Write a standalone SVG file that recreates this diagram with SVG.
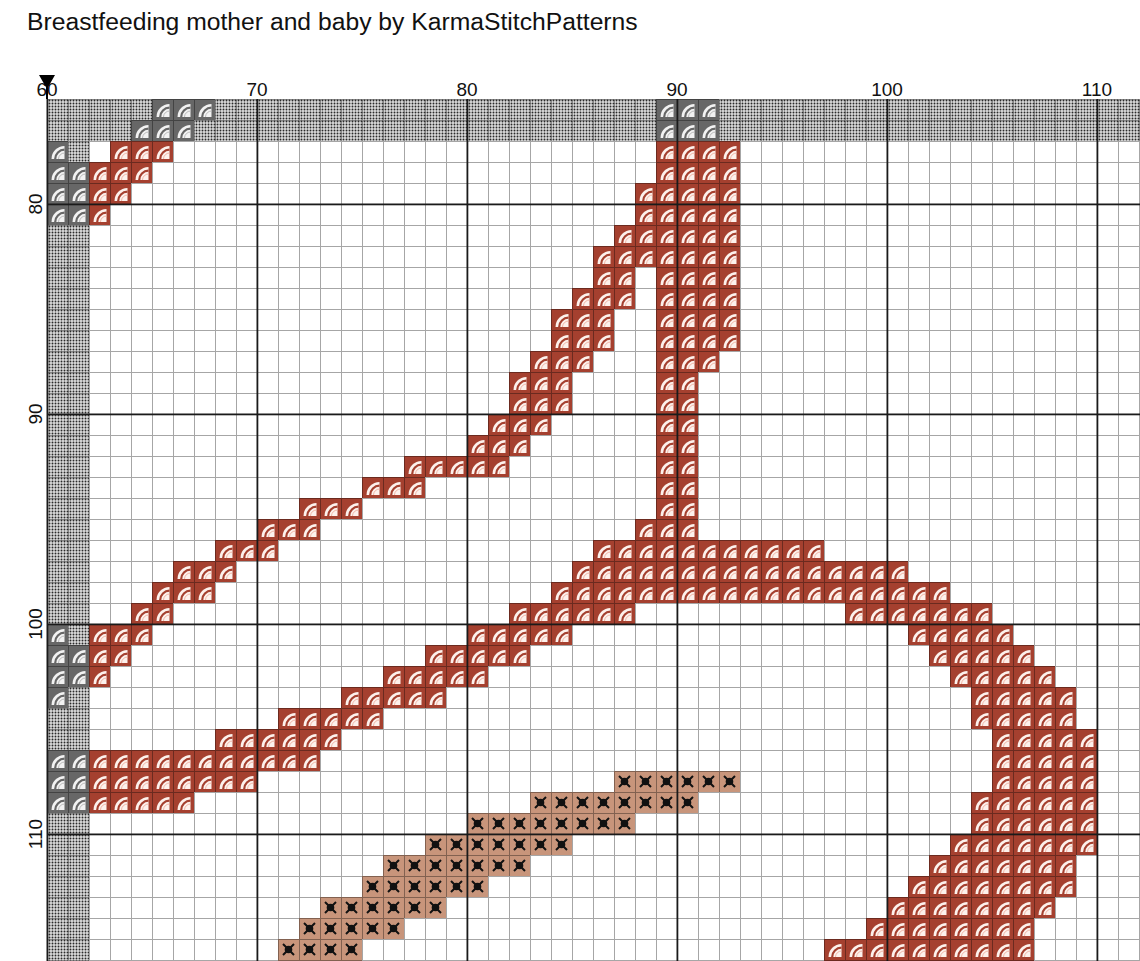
<svg xmlns="http://www.w3.org/2000/svg" width="1140" height="961" viewBox="0 0 1140 961">
<style>
text{font-family:"Liberation Sans",Arial,sans-serif;fill:#111}
.ax{font-size:19px;text-anchor:middle}
.r{fill:url(#pR)}
.g{fill:url(#pK)}
.b{fill:url(#pB)}
.maj{fill:#1a1a1a}
</style>
<defs>
<pattern id="pD" patternUnits="userSpaceOnUse" width="3" height="3">
<rect width="3" height="3" fill="#dcdcdc"/>
<circle cx="1.5" cy="1.5" r="0.95" fill="#2a2a2a"/>
</pattern>
<pattern id="pR" patternUnits="userSpaceOnUse" x="47" y="99" width="21" height="21">
<rect width="21" height="21" fill="#a5402f"/>
<path d="M4.5,18 A13,13 0 0 1 17.5,5 L17.5,18 Z" fill="#fdf1ec"/>
<path d="M8.2,18 A9.3,9.3 0 0 1 17.5,8.7" fill="none" stroke="#a5402f" stroke-width="2.2"/>
<path d="M11.5,18 A6,6 0 0 1 17.5,12" fill="none" stroke="#f0b5a6" stroke-width="1"/>
</pattern>
<pattern id="pK" patternUnits="userSpaceOnUse" x="47" y="99" width="21" height="21">
<rect width="21" height="21" fill="#676767"/>
<path d="M4.5,18 A13,13 0 0 1 17.5,5 L17.5,18 Z" fill="#f2f2f2"/>
<path d="M8.2,18 A9.3,9.3 0 0 1 17.5,8.7" fill="none" stroke="#676767" stroke-width="2.2"/>
<path d="M11.5,18 A6,6 0 0 1 17.5,12" fill="none" stroke="#bbb" stroke-width="1"/>
</pattern>
<pattern id="pB" patternUnits="userSpaceOnUse" x="47" y="99" width="21" height="21">
<rect width="21" height="21" fill="#c8957b"/>
<path d="M5,5L16,16M16,5L5,16" stroke="#111" stroke-width="2"/>
<circle cx="10.5" cy="10.5" r="3.8" fill="#111"/>
</pattern>
<pattern id="pG" patternUnits="userSpaceOnUse" x="47" y="99" width="21" height="21">
<rect width="21" height="1" fill="#000" fill-opacity="0.35"/>
<rect y="1" width="1" height="20" fill="#000" fill-opacity="0.35"/>
</pattern>
</defs>
<rect width="1140" height="961" fill="#fff"/>
<text x="27" y="30" style="font-size:24.7px">Breastfeeding mother and baby by KarmaStitchPatterns</text>
<g id="axis-labels">
<text class="ax" x="47" y="96">60</text>
<text class="ax" x="257" y="96">70</text>
<text class="ax" x="467" y="96">80</text>
<text class="ax" x="677" y="96">90</text>
<text class="ax" x="887" y="96">100</text>
<text class="ax" x="1097" y="96">110</text>
<text class="ax" transform="translate(42,204) rotate(-90)">80</text>
<text class="ax" transform="translate(42,414) rotate(-90)">90</text>
<text class="ax" transform="translate(42,624) rotate(-90)">100</text>
<text class="ax" transform="translate(42,834) rotate(-90)">110</text>
<path d="M39,75 L55,75 L47,89 Z M46,75 H48 V99 H46 Z" fill="#000"/>
</g>
<g id="bands">
<rect x="47" y="99" width="1093" height="42" fill="url(#pD)"/>
<rect x="47" y="141" width="42" height="820" fill="url(#pD)"/>
</g>
<g id="gray-stitches">
<rect class="g" x="152" y="99" width="63" height="21"/>
<rect class="g" x="656" y="99" width="63" height="42"/>
<rect class="g" x="131" y="120" width="63" height="21"/>
<rect class="g" x="47" y="141" width="21" height="21"/>
<rect class="g" x="47" y="162" width="42" height="63"/>
<rect class="g" x="47" y="624" width="21" height="21"/>
<rect class="g" x="47" y="645" width="42" height="42"/>
<rect class="g" x="47" y="687" width="21" height="21"/>
<rect class="g" x="47" y="750" width="42" height="63"/>
</g>
<g id="red-stitches">
<rect class="r" x="110" y="141" width="63" height="21"/>
<rect class="r" x="656" y="141" width="84" height="42"/>
<rect class="r" x="89" y="162" width="63" height="21"/>
<rect class="r" x="89" y="183" width="42" height="21"/>
<rect class="r" x="635" y="183" width="105" height="42"/>
<rect class="r" x="89" y="204" width="21" height="21"/>
<rect class="r" x="614" y="225" width="126" height="21"/>
<rect class="r" x="593" y="246" width="147" height="21"/>
<rect class="r" x="593" y="267" width="42" height="21"/>
<rect class="r" x="656" y="267" width="84" height="84"/>
<rect class="r" x="572" y="288" width="63" height="21"/>
<rect class="r" x="551" y="309" width="63" height="42"/>
<rect class="r" x="530" y="351" width="63" height="21"/>
<rect class="r" x="656" y="351" width="63" height="21"/>
<rect class="r" x="509" y="372" width="63" height="42"/>
<rect class="r" x="656" y="372" width="42" height="147"/>
<rect class="r" x="488" y="414" width="63" height="21"/>
<rect class="r" x="467" y="435" width="63" height="21"/>
<rect class="r" x="404" y="456" width="105" height="21"/>
<rect class="r" x="362" y="477" width="63" height="21"/>
<rect class="r" x="299" y="498" width="63" height="21"/>
<rect class="r" x="257" y="519" width="63" height="21"/>
<rect class="r" x="635" y="519" width="63" height="21"/>
<rect class="r" x="215" y="540" width="63" height="21"/>
<rect class="r" x="593" y="540" width="231" height="21"/>
<rect class="r" x="173" y="561" width="63" height="21"/>
<rect class="r" x="572" y="561" width="336" height="21"/>
<rect class="r" x="152" y="582" width="63" height="21"/>
<rect class="r" x="551" y="582" width="399" height="21"/>
<rect class="r" x="131" y="603" width="42" height="21"/>
<rect class="r" x="509" y="603" width="126" height="21"/>
<rect class="r" x="845" y="603" width="147" height="21"/>
<rect class="r" x="89" y="624" width="63" height="21"/>
<rect class="r" x="467" y="624" width="105" height="21"/>
<rect class="r" x="908" y="624" width="105" height="21"/>
<rect class="r" x="89" y="645" width="42" height="21"/>
<rect class="r" x="425" y="645" width="105" height="21"/>
<rect class="r" x="929" y="645" width="105" height="21"/>
<rect class="r" x="89" y="666" width="21" height="21"/>
<rect class="r" x="383" y="666" width="105" height="21"/>
<rect class="r" x="950" y="666" width="105" height="21"/>
<rect class="r" x="341" y="687" width="105" height="21"/>
<rect class="r" x="971" y="687" width="105" height="42"/>
<rect class="r" x="278" y="708" width="105" height="21"/>
<rect class="r" x="215" y="729" width="126" height="21"/>
<rect class="r" x="992" y="729" width="105" height="63"/>
<rect class="r" x="89" y="750" width="231" height="21"/>
<rect class="r" x="89" y="771" width="168" height="21"/>
<rect class="r" x="89" y="792" width="105" height="21"/>
<rect class="r" x="971" y="792" width="126" height="42"/>
<rect class="r" x="950" y="834" width="147" height="21"/>
<rect class="r" x="929" y="855" width="147" height="21"/>
<rect class="r" x="908" y="876" width="168" height="21"/>
<rect class="r" x="887" y="897" width="168" height="21"/>
<rect class="r" x="866" y="918" width="168" height="21"/>
<rect class="r" x="824" y="939" width="210" height="22"/>
</g>
<g id="brown-stitches">
<rect class="b" x="614" y="771" width="126" height="21"/>
<rect class="b" x="530" y="792" width="168" height="21"/>
<rect class="b" x="467" y="813" width="168" height="21"/>
<rect class="b" x="425" y="834" width="147" height="21"/>
<rect class="b" x="383" y="855" width="147" height="21"/>
<rect class="b" x="362" y="876" width="126" height="21"/>
<rect class="b" x="320" y="897" width="126" height="21"/>
<rect class="b" x="299" y="918" width="105" height="21"/>
<rect class="b" x="278" y="939" width="84" height="22"/>
</g>
<g id="grid">
<rect x="47" y="99" width="1093" height="862" fill="url(#pG)"/>
<rect class="maj" x="46.5" y="99" width="1.8" height="862"/>
<rect class="maj" x="256.5" y="99" width="1.8" height="862"/>
<rect class="maj" x="466.5" y="99" width="1.8" height="862"/>
<rect class="maj" x="676.5" y="99" width="1.8" height="862"/>
<rect class="maj" x="886.5" y="99" width="1.8" height="862"/>
<rect class="maj" x="1096.5" y="99" width="1.8" height="862"/>
<rect class="maj" x="47" y="203.5" width="1093" height="1.8"/>
<rect class="maj" x="47" y="413.5" width="1093" height="1.8"/>
<rect class="maj" x="47" y="623.5" width="1093" height="1.8"/>
<rect class="maj" x="47" y="833.5" width="1093" height="1.8"/>
</g>
</svg>
